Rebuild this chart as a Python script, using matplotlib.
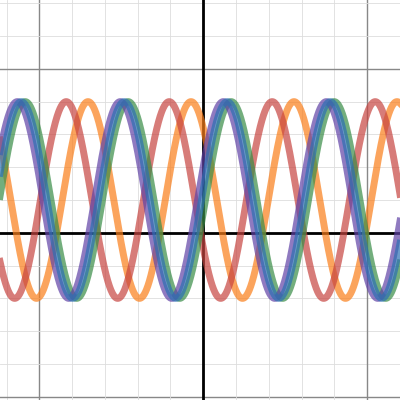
import numpy as np
import matplotlib
matplotlib.use("Agg")
import matplotlib.pyplot as plt

names = ["orange", "red", "green", "purple", "blue"]
colors = ["#fa7e19", "#c74440", "#388c46", "#6042a6", "#2d70b3"]
phases = [2.32, 3.65, -0.13, 0.35, 0.11]
offset = 1.0
amplitude = 3.0
freq = 2.0

xmin, xmax, ymin, ymax = -6.2, 6.0, -5.1, 7.1
fig = plt.figure(figsize=(4, 4), dpi=100)
ax = fig.add_axes([0, 0, 1, 1])
ax.set_xlim(xmin, xmax); ax.set_ylim(ymin, ymax)
for v in range(-7, 8):
    lw, c = (1.0, "#888888") if v % 5 == 0 else (0.6, "#dddddd")
    ax.axvline(v, color=c, lw=lw, zorder=0)
    ax.axhline(v, color=c, lw=lw, zorder=0)
ax.axvline(0, color="black", lw=2, zorder=1)
ax.axhline(0, color="black", lw=2, zorder=1)
x = np.linspace(xmin, xmax, 2000)
for c, p in zip(colors, phases):
    ax.plot(x, offset + amplitude * np.sin(freq * x + p), color=c, lw=5, alpha=0.7, zorder=2)
ax.axis("off")
fig.savefig("out.png", dpi=100)
